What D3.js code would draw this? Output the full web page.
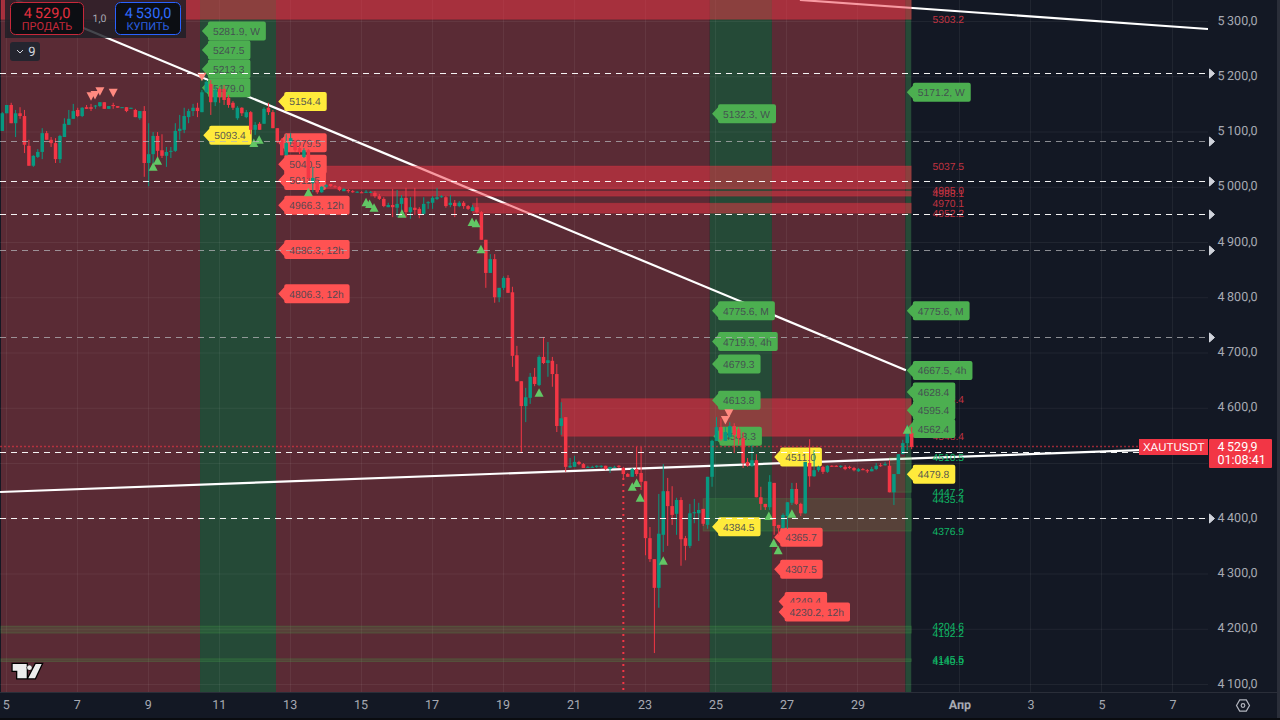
<!DOCTYPE html>
<html>
<head>
<meta charset="utf-8">
<script src="https://cdn.jsdelivr.net/npm/d3@7"></script>
<style>
  html, body { margin: 0; padding: 0; background: #131824; overflow: hidden; }
  text { font-family: "Liberation Sans", Arial, sans-serif; text-rendering: geometricPrecision; }
  .ax text { font-family: Roboto, sans-serif; }
</style>
</head>
<body>
<script>
// 3h candles, one entry per bar
const opens = [5101,5133,5148,5115,5133,5128,5074,5038,5054,5063,5097,5085,5079,5050,5090,5112,5123,5139,5128,5144,5144,5146,5146,5153,5141,5148,5146,5143,5144,5141,5139,5124,5137,5043,5059,5092,5066,5056,5064,5065,5101,5103,5126,5137,5143,5135,5171,5186,5153,5177,5177,5161,5152,5124,5143,5126,5135,5103,5114,5114,5143,5135,5106,5085,5057,5081,5081,5070,5054,5066,5007,5007,4990,5000,5005,5001,5000,4992,4994,4992,4990,4990,4989,4989,4989,4983,4978,4963,4967,4962,4969,4980,4954,4962,4960,4951,4971,4971,4978,4981,4981,4967,4971,4965,4971,4965,4956,4963,4954,4904,4844,4869,4800,4817,4835,4809,4695,4648,4603,4618,4656,4641,4692,4681,4685,4661,4567,4583,4492,4493,4502,4498,4492,4492,4493,4493,4495,4489,4492,4495,4491,4480,4475,4489,4482,4467,4364,4326,4274,4370,4449,4422,4408,4433,4364,4350,4409,4409,4417,4388,4475,4540,4565,4540,4547,4567,4561,4545,4502,4495,4505,4438,4426,4420,4464,4388,4382,4404,4428,4453,4426,4409,4500,4476,4487,4493,4484,4495,4495,4493,4493,4493,4491,4485,4489,4487,4485,4489,4496,4496,4495,4447,4480,4516,4536,4554];
const highs = [5135,5148,5152,5139,5144,5139,5085,5057,5068,5106,5101,5090,5088,5094,5124,5139,5150,5143,5144,5148,5150,5148,5153,5153,5146,5152,5146,5144,5144,5143,5141,5137,5146,5115,5099,5099,5095,5072,5072,5115,5130,5143,5141,5150,5152,5175,5193,5193,5182,5181,5184,5166,5155,5146,5144,5139,5137,5117,5117,5144,5152,5139,5106,5088,5095,5097,5085,5074,5070,5068,5036,5009,5001,5005,5005,5003,5001,4998,4996,4994,4992,4992,4994,4992,4992,4987,4981,4971,4996,4994,4985,4998,4981,4998,4963,4981,4974,4983,4998,4985,4983,4985,4976,4974,4974,4967,4967,4980,4956,4904,4878,4878,4817,4838,4840,4819,4712,4648,4636,4663,4672,4695,4728,4719,4692,4679,4610,4583,4509,4513,4504,4500,4495,4495,4496,4496,4495,4493,4495,4496,4493,4482,4491,4529,4529,4467,4384,4326,4444,4498,4473,4458,4437,4438,4368,4426,4435,4428,4417,4475,4542,4583,4581,4565,4574,4572,4565,4556,4509,4533,4516,4457,4426,4478,4464,4388,4409,4429,4464,4464,4428,4502,4543,4523,4495,4495,4496,4496,4496,4496,4496,4495,4493,4491,4491,4489,4493,4500,4500,4502,4505,4480,4516,4542,4569,4565];
const lows = [5101,5133,5115,5090,5123,5061,5038,5036,5052,5050,5085,5072,5043,5043,5090,5112,5123,5126,5126,5141,5137,5141,5144,5141,5141,5141,5143,5143,5135,5141,5126,5121,5018,5001,5043,5052,5052,5036,5052,5063,5085,5097,5115,5128,5126,5135,5170,5130,5146,5152,5148,5143,5139,5121,5128,5124,5095,5094,5103,5114,5130,5106,5079,5057,5057,5076,5063,5059,5052,5009,4990,4987,4989,4998,5000,4998,4992,4992,4989,4989,4989,4989,4989,4989,4980,4976,4963,4963,4945,4945,4952,4945,4942,4949,4943,4949,4960,4960,4976,4980,4962,4963,4945,4963,4960,4958,4956,4951,4904,4817,4844,4790,4791,4813,4808,4674,4648,4520,4574,4607,4639,4639,4679,4656,4638,4556,4551,4484,4491,4493,4496,4491,4491,4491,4491,4491,4487,4482,4491,4491,4471,4475,4475,4476,4451,4333,4321,4156,4238,4339,4350,4388,4370,4314,4324,4346,4391,4359,4386,4381,4457,4540,4540,4540,4545,4518,4533,4491,4493,4493,4438,4415,4415,4415,4370,4370,4382,4381,4424,4424,4404,4408,4457,4475,4484,4480,4482,4493,4493,4491,4487,4489,4485,4484,4487,4482,4485,4487,4493,4495,4447,4424,4480,4516,4523,4525];
const closes = [5133,5148,5115,5133,5128,5076,5038,5056,5063,5097,5085,5079,5050,5092,5114,5123,5137,5128,5143,5141,5141,5147,5153,5141,5146,5146,5143,5144,5137,5143,5126,5137,5043,5059,5092,5065,5056,5063,5065,5101,5105,5128,5137,5143,5137,5171,5190,5153,5175,5162,5157,5148,5143,5143,5133,5135,5103,5112,5103,5141,5135,5106,5081,5057,5079,5088,5066,5063,5066,5016,5016,4990,5000,5003,5001,5000,4994,4996,4992,4990,4991,4989,4991,4991,4983,4978,4965,4967,4963,4969,4980,4954,4963,4958,4951,4969,4972,4980,4981,4983,4965,4971,4965,4971,4965,4960,4963,4954,4904,4844,4869,4800,4817,4835,4808,4694,4648,4603,4619,4656,4643,4692,4681,4686,4661,4567,4581,4493,4495,4502,4498,4491,4493,4493,4495,4495,4489,4493,4493,4493,4480,4475,4489,4480,4466,4364,4326,4274,4372,4449,4422,4406,4433,4362,4350,4409,4411,4415,4390,4475,4540,4565,4543,4556,4567,4551,4545,4500,4495,4505,4438,4426,4420,4466,4386,4382,4406,4429,4453,4426,4409,4502,4476,4487,4493,4484,4495,4494,4493,4495,4489,4491,4487,4489,4487,4485,4489,4495,4495,4498,4447,4480,4516,4536,4554,4529];

// session background: bar ranges, 1 = red, 0 = green
const sessionStart = [-0.3, 44.57, 61.7, 159.5, 173.5, 203.6];
const sessionEnd = [44.57, 61.7, 159.5, 173.5, 203.6, 204.9];
const sessionKind = [1, 0, 1, 0, 1, 0];

// supply / demand zones
const zoneTop = [5345, 5037.5, 4992, 4970.1, 4616.4, 4510.5, 4435.4, 4204.6, 4145.5];
const zoneBottom = [5303.2, 4995.9, 4983, 4952.2, 4548.4, 4447.2, 4376.9, 4192.2, 4140.9];
const zoneStart = [-0.3, 72.8, 83, 106, 126, 200, 158, -0.3, -0.3];
const zoneKind = [1, 1, 1, 1, 1, 0, 0, 0, 0];

// labels right of the zones
const sideRed = [5303.2, 5037.5, 4995.0, 4988.1, 4970.1, 4952.2, 4616.4, 4548.4];
const sideGreen = [4510.5, 4447.2, 4435.4, 4376.9, 4204.6, 4192.2, 4145.5, 4140.9];

// tags
const tagPrice = [5281.9,5247.5,5213.3,5179.0,5132.3,4775.6,4719.9,4679.3,4613.8,4548.3,5171.2,4775.6,4667.5,4628.4,4595.4,4562.4,5154.4,5093.4,4384.5,4511.0,4479.8,5079.5,5040.5,5011.5,4966.3,4886.3,4806.3,4365.7,4307.5,4249.4,4230.2];
const tagSuffix = [", W","","","",", W",", M",", 4h","","","",", W",", M",", 4h","","","","","","","","","","","",", 12h",", 12h",", 12h","","","",", 12h"];
const tagBar = [45,45,45,45,160,160,160,160,160,160.3,203.9,203.9,203.9,203.9,203.9,203.9,62.2,45.3,160,174,203.9,62.2,62.2,62.2,62.2,62.2,62.2,174,174,175,175];
const tagKind = ["g","g","g","g","g","g","g","g","g","g","g","g","g","g","g","g","y","y","y","y","y","r","r","r","r","r","r","r","r","r","r"];

// signal triangles
const buyBars = [34,35,56.7,57.9,69,82,82.8,83.8,90.1,105.9,106.8,107.9,121,142,143,143.8,149,172.8,178,173.9,174.9,204];
const buyPrices = [5036,5047,5079,5085,4990,4972,4969,4962,4951,4936,4934,4887,4627,4457,4464,4437,4323,4404,4408,4355,4342,4560];
const sellBars = [20,20.9,22,25,45,163.8,163];
const sellPrices = [5164,5166,5173,5170,5199,4590,4578];

// dashed levels, dim ones are greyer
const levelPrices = [5206, 5083, 5011, 4950, 4886, 4728, 4520, 4400];
const levelDim = [0, 1, 0, 0, 1, 1, 0, 0];

// trend lines [bar, price] pairs
const trendFrom = [[3.1, 5338], [179.8, 5338], [-0.5, 4447.5]];
const trendTo = [[203.7, 4668], [271.8, 5285.5], [271.8, 4528]];

const priceTicks = [5300,5200,5100,5000,4900,4800,4700,4600,4400,4300,4200,4100];
const gridPrices = [5300,5200,5100,5000,4900,4800,4700,4600,4500,4400,4300,4200,4100];
const dateBars = [1,17,33,49,65,81,97,113,129,145,161,177,193,216,232,248,264];
const dateLabels = ["5","7","9","11","13","15","17","19","21","23","25","27","29","Апр","3","5","7"];
const lastPrice = 4529.9;
const signalBar = 140;

const w = 1280, h = 720;
const plotW = 1208, plotH = 692;

const colRed = "#f23645", colGreen = "#089981";

const xScale = d3.scaleLinear().domain([0, 272]).range([2.3, 2.3 + 272 * 4.436]);
const yScale = d3.scaleLinear().domain([5300, 4100]).range([21, 684]);

const svg = d3.select("body").append("svg")
  .attr("width", w).attr("height", h)
  .style("display", "block");

svg.append("rect").attr("width", w).attr("height", h).attr("fill", "#131824");

svg.append("clipPath").attr("id", "plot").append("rect")
  .attr("width", plotW).attr("height", plotH);

const chart = svg.append("g").attr("clip-path", "url(#plot)");

// sessions
chart.selectAll("rect.session")
  .data(sessionStart)
  .enter().append("rect")
  .attr("class", "session")
  .attr("x", d => xScale(d))
  .attr("y", 0)
  .attr("width", (d, i) => xScale(sessionEnd[i]) - xScale(d))
  .attr("height", plotH)
  .attr("fill", (d, i) => sessionKind[i] ? "#5a2b35" : "#254a37");

// grid
chart.selectAll("line.hgrid")
  .data(gridPrices)
  .enter().append("line")
  .attr("x1", 0).attr("x2", plotW)
  .attr("y1", d => yScale(d) + 0.5).attr("y2", d => yScale(d) + 0.5)
  .attr("stroke", "#ffffff").attr("stroke-opacity", 0.06);

chart.selectAll("line.vgrid")
  .data(dateBars)
  .enter().append("line")
  .attr("x1", d => Math.round(xScale(d)) - 0.5).attr("x2", d => Math.round(xScale(d)) - 0.5)
  .attr("y1", 0).attr("y2", plotH)
  .attr("stroke", "#ffffff").attr("stroke-opacity", 0.06);

// trend lines go under the zones
chart.selectAll("line.trend")
  .data(trendFrom)
  .enter().append("line")
  .attr("x1", d => xScale(d[0])).attr("y1", d => yScale(d[1]))
  .attr("x2", (d, i) => xScale(trendTo[i][0])).attr("y2", (d, i) => yScale(trendTo[i][1]))
  .attr("stroke", "#ffffff").attr("stroke-width", 2.2);

// zones
chart.selectAll("rect.zone")
  .data(zoneTop)
  .enter().append("rect")
  .attr("x", (d, i) => xScale(zoneStart[i]))
  .attr("y", d => yScale(d))
  .attr("width", (d, i) => xScale(204.9) - xScale(zoneStart[i]))
  .attr("height", (d, i) => yScale(zoneBottom[i]) - yScale(d))
  .attr("fill", (d, i) => zoneKind[i] ? colRed : "#4caf50")
  .attr("fill-opacity", (d, i) => zoneKind[i] ? 0.5 : 0.17)
  .attr("stroke", (d, i) => zoneKind[i] ? colRed : "#4caf50")
  .attr("stroke-opacity", 0.25);

// side labels, red ones sit under the tags
chart.selectAll("text.sideRed")
  .data(sideRed)
  .enter().append("text")
  .attr("x", xScale(209.7))
  .attr("y", d => yScale(d) + 4)
  .attr("font-size", 10.3)
  .attr("fill", "#c13341")
  .text(d => d.toFixed(1));

// tags, arrow on the left side
const tagFill = { g: "#4caf50", y: "#ffeb3b", r: "#ff5252" };
const tagH = 19;

const tags = chart.selectAll("g.tag")
  .data(tagPrice)
  .enter().append("g")
  .attr("class", "tag")
  .attr("transform", (d, i) => `translate(${xScale(tagBar[i])},${yScale(d)})`);

tags.append("text")
  .attr("x", 11)
  .attr("y", 4)
  .attr("font-size", 10.3)
  .attr("fill", "#434651")
  .attr("fill-opacity", 0.9)
  .text((d, i) => d.toFixed(1) + tagSuffix[i]);

// box size depends on the text width
tags.insert("path", "text")
  .attr("fill", (d, i) => tagFill[tagKind[i]])
  .attr("d", function () {
    const tw = this.parentNode.querySelector("text").getComputedTextLength();
    const r = tw + 17, a = 6, t = tagH / 2;
    return `M0,0L${a},${-t + 3}L${a},${-t + 2}Q${a},${-t} ${a + 2},${-t}L${r - 2},${-t}Q${r},${-t} ${r},${-t + 2}L${r},${t - 2}Q${r},${t} ${r - 2},${t}L${a + 2},${t}Q${a},${t} ${a},${t - 2}L${a},${t - 3}Z`;
  });

// candles
const candles = chart.selectAll("g.candle")
  .data(opens)
  .enter().append("g");

candles.append("line")
  .attr("x1", (d, i) => xScale(i)).attr("x2", (d, i) => xScale(i))
  .attr("y1", (d, i) => yScale(highs[i])).attr("y2", (d, i) => yScale(lows[i]))
  .attr("stroke", (d, i) => closes[i] >= d ? colGreen : colRed)
  .attr("stroke-width", 1);

candles.append("rect")
  .attr("x", (d, i) => xScale(i) - 1.75)
  .attr("width", 3.5)
  .attr("y", (d, i) => yScale(Math.max(d, closes[i])))
  .attr("height", (d, i) => Math.max(1, Math.abs(yScale(d) - yScale(closes[i]))))
  .attr("fill", (d, i) => closes[i] >= d ? colGreen : colRed);

// signal triangles
chart.selectAll("path.buy")
  .data(buyBars)
  .enter().append("path")
  .attr("transform", (d, i) => `translate(${xScale(d)},${yScale(buyPrices[i])})`)
  .attr("d", "M0,-4.5L4.5,4L-4.5,4Z")
  .attr("fill", "#62c765");

chart.selectAll("path.sell")
  .data(sellBars)
  .enter().append("path")
  .attr("transform", (d, i) => `translate(${xScale(d)},${yScale(sellPrices[i])})`)
  .attr("d", "M0,4.5L4.5,-4L-4.5,-4Z")
  .attr("fill", "#ff8a80");

// dashed levels
chart.selectAll("line.level")
  .data(levelPrices)
  .enter().append("line")
  .attr("x1", 0).attr("x2", plotW)
  .attr("y1", d => Math.round(yScale(d)) + 0.5).attr("y2", d => Math.round(yScale(d)) + 0.5)
  .attr("stroke", (d, i) => levelDim[i] ? "#b4b4b8" : "#ffffff")
  .attr("stroke-opacity", (d, i) => levelDim[i] ? 0.75 : 0.95)
  .attr("stroke-dasharray", "6,5");

// last price dotted line
chart.append("line")
  .attr("x1", 0).attr("x2", plotW)
  .attr("y1", Math.round(yScale(lastPrice)) + 0.5).attr("y2", Math.round(yScale(lastPrice)) + 0.5)
  .attr("stroke", colRed).attr("stroke-opacity", 0.6).attr("stroke-width", 1.5)
  .attr("stroke-dasharray", "2,2");

// vertical dotted marker
chart.append("line")
  .attr("x1", xScale(signalBar)).attr("x2", xScale(signalBar))
  .attr("y1", 478).attr("y2", plotH)
  .attr("stroke", colRed).attr("stroke-width", 2)
  .attr("stroke-dasharray", "2,4");

// green side labels stay on top of the lines
chart.selectAll("text.sideGreen")
  .data(sideGreen)
  .enter().append("text")
  .attr("x", xScale(209.7))
  .attr("y", d => yScale(d) + 4)
  .attr("font-size", 10.3)
  .attr("fill", "#10b866")
  .text(d => d.toFixed(1));

// axes
const fmt = d3.formatLocale({ decimal: ",", thousands: "\u2009", grouping: [3], currency: ["", ""] }).format(",.1f");

svg.append("rect").attr("x", 0).attr("y", plotH).attr("width", w).attr("height", h - plotH).attr("fill", "#131824");
svg.append("line").attr("x1", 0).attr("x2", 1277).attr("y1", plotH + 0.5).attr("y2", plotH + 0.5).attr("stroke", "#2a2e39");
svg.append("rect").attr("x", 1277).attr("y", 0).attr("width", 3).attr("height", h).attr("fill", "#2a2e39");
svg.append("rect").attr("x", 0).attr("y", 718).attr("width", w).attr("height", 2).attr("fill", "#0a0c10");

const yAxis = d3.axisRight(yScale).tickValues(priceTicks).tickSize(0).tickPadding(0).tickFormat(fmt);
const yG = svg.append("g").attr("class", "ax").attr("transform", "translate(1217.5,-1)").call(yAxis);
yG.select(".domain").remove();
yG.selectAll("text").attr("fill", "#a7aab3").attr("font-size", 12.5);

const xAxis = d3.axisBottom(xScale).tickValues(dateBars).tickSize(0).tickPadding(8)
  .tickFormat((d, i) => dateLabels[i]);
const xG = svg.append("g").attr("class", "ax").attr("transform", `translate(-1,${plotH})`).call(xAxis);
xG.select(".domain").remove();
xG.selectAll("text").attr("fill", "#a7aab3").attr("font-size", 12.5)
  .attr("font-weight", (d, i) => dateLabels[i] === "Апр" ? 700 : 400);

// level arrows on the scale
svg.selectAll("path.arrow")
  .data(levelPrices)
  .enter().append("path")
  .attr("transform", d => `translate(1209.5,${Math.round(yScale(d)) + 0.5})`)
  .attr("d", "M0,-4.5L5,0L0,4.5Z")
  .attr("fill", "#d1d4dc").attr("stroke", "#d1d4dc").attr("stroke-linejoin", "round");

// symbol and price badge
svg.append("rect").attr("x", 1139).attr("y", 439).attr("width", 69).attr("height", 16).attr("fill", colRed);
svg.append("text").attr("x", 1143).attr("y", 451).attr("fill", "#fff").attr("font-size", 11.4).text("XAUTUSDT");
svg.append("rect").attr("x", 1209).attr("y", 439).attr("width", 63).attr("height", 29).attr("rx", 1).attr("fill", colRed);
svg.append("text").attr("x", 1217.5).attr("y", 451).attr("fill", "#fff").attr("font-size", 12.5)
  .style("font-family", "Roboto, sans-serif").text(fmt(lastPrice));
svg.append("text").attr("x", 1217.5).attr("y", 464).attr("fill", "#fff").attr("font-size", 12.5)
  .style("font-family", "Roboto, sans-serif").text("01:08:41");

// settings icon
svg.append("path")
  .attr("transform", "translate(1243,705.5)")
  .attr("d", "M-6.5,0L-3.3,-5.6L3.3,-5.6L6.5,0L3.3,5.6L-3.3,5.6Z")
  .attr("fill", "none").attr("stroke", "#b2b5be").attr("stroke-width", 1.2);
svg.append("circle").attr("cx", 1243).attr("cy", 705.5).attr("r", 1.8)
  .attr("fill", "none").attr("stroke", "#b2b5be").attr("stroke-width", 1.2);

// order panel
svg.append("rect").attr("x", 5).attr("y", 0).attr("width", 181).attr("height", 38)
  .attr("fill", "#1c1e26").attr("fill-opacity", 0.82);
svg.append("rect").attr("x", 10.5).attr("y", 2.5).attr("width", 73).attr("height", 32).attr("rx", 5)
  .attr("fill", "#0c0e13").attr("stroke", "#c7283a");
svg.append("rect").attr("x", 115.5).attr("y", 2.5).attr("width", 65).attr("height", 32).attr("rx", 5)
  .attr("fill", "#0c0e13").attr("stroke", "#2962ff");

const panelText = (x, y, size, color, txt) => svg.append("text")
  .attr("x", x).attr("y", y).attr("text-anchor", "middle")
  .attr("font-size", size).attr("fill", color)
  .style("font-family", "Roboto, sans-serif").text(txt);

panelText(47, 17.5, 14.5, "#e5303f", "4\u2009529,0");
panelText(47, 29.5, 11, "#c7283a", "ПРОДАТЬ");
panelText(148, 17.5, 14.5, "#2f6bff", "4\u2009530,0");
panelText(148, 29.5, 11, "#2a5fe0", "КУПИТЬ");
panelText(99.5, 22, 10.5, "#a7aab3", "1,0");

// indicators collapse button
svg.append("rect").attr("x", 10).attr("y", 42).attr("width", 30).attr("height", 19).attr("rx", 3).attr("fill", "#24252f");
svg.append("path").attr("d", "M17,50L20,53L23,50").attr("fill", "none").attr("stroke", "#d1d4dc");
panelText(32, 56, 13, "#d1d4dc", "9");

// TV logo
svg.append("path")
  .attr("d", "M12.7,664H26.7V678.3H17.3V670.7H12.7Z M35.7,664H41.7L35,678.3H28.3Z")
  .attr("fill", "#ececec").attr("stroke", "#000").attr("stroke-width", 2.5).attr("paint-order", "stroke");
svg.append("circle").attr("cx", 29.5).attr("cy", 667.7).attr("r", 2.4).attr("fill", "#ececec").attr("stroke", "#000").attr("paint-order", "stroke");
</script>
</body>
</html>
